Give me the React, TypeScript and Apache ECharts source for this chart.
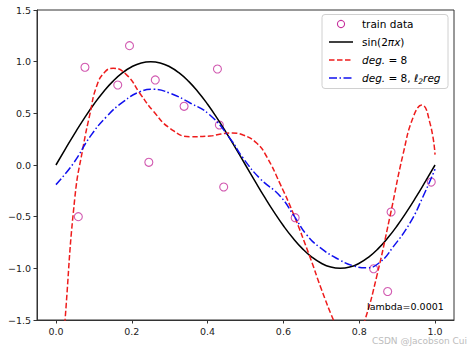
import React, { useEffect, useRef } from "react";
import * as echarts from "echarts";

const seriesNames = ["train data", "sin(2πx)", "deg. = 8", "deg. = 8, ℓ2reg"];

const trainX = [0.059, 0.0765, 0.163, 0.194, 0.245, 0.262, 0.338, 0.426, 0.431, 0.4425, 0.631, 0.838, 0.875, 0.884, 0.99];
const trainY = [-0.5, 0.946, 0.774, 1.155, 0.026, 0.823, 0.568, 0.929, 0.387, -0.213, -0.51, -1.004, -1.224, -0.455, -0.165];

const sinX = [0, 0.025, 0.05, 0.075, 0.1, 0.125, 0.15, 0.175, 0.2, 0.225, 0.25, 0.275, 0.3, 0.325, 0.35, 0.375, 0.4, 0.425, 0.45, 0.475, 0.5, 0.525, 0.55, 0.575, 0.6, 0.625, 0.65, 0.675, 0.7, 0.725, 0.75, 0.775, 0.8, 0.825, 0.85, 0.875, 0.9, 0.925, 0.95, 0.975, 1.0];
const sinY = [0, 0.156, 0.309, 0.454, 0.588, 0.707, 0.809, 0.891, 0.951, 0.988, 1.0, 0.988, 0.951, 0.891, 0.809, 0.707, 0.588, 0.454, 0.309, 0.156, 0, -0.156, -0.309, -0.454, -0.588, -0.707, -0.809, -0.891, -0.951, -0.988, -1.0, -0.988, -0.951, -0.891, -0.809, -0.707, -0.588, -0.454, -0.309, -0.156, 0];

const polyX = [0, 0.024, 0.05, 0.072, 0.09, 0.107, 0.129, 0.151, 0.187, 0.222, 0.257, 0.301, 0.354, 0.406, 0.435, 0.465, 0.494, 0.53, 0.556, 0.591, 0.626, 0.67, 0.7, 0.732, 0.76, 0.79, 0.815, 0.846, 0.881, 0.916, 0.943, 0.965, 0.987, 1.0];
const polyY = [-2.7, -1.5, -0.31, 0.18, 0.5, 0.76, 0.9, 0.936, 0.87, 0.69, 0.52, 0.355, 0.274, 0.28, 0.3, 0.31, 0.29, 0.21, 0.08, -0.18, -0.47, -0.89, -1.2, -1.5, -1.72, -1.72, -1.5, -1.08, -0.5, 0.11, 0.47, 0.58, 0.4, 0.1];

const regX = [0, 0.046, 0.09, 0.134, 0.178, 0.222, 0.257, 0.301, 0.354, 0.406, 0.459, 0.494, 0.538, 0.591, 0.631, 0.66, 0.697, 0.749, 0.784, 0.82, 0.855, 0.89, 0.934, 0.969, 1.0];
const regY = [-0.19, 0.016, 0.274, 0.47, 0.613, 0.71, 0.733, 0.694, 0.6, 0.484, 0.258, 0.065, -0.13, -0.3, -0.51, -0.67, -0.8, -0.92, -0.975, -0.995, -0.94, -0.79, -0.56, -0.3, -0.04];

const xTicks = [0, 0.2, 0.4, 0.6, 0.8, 1.0];

const pairs = (xs: number[], ys: number[]) => xs.map((x, i) => [x, ys[i]]);

const FONT = "DejaVu Sans";
const MAGENTA = "#c62f9c";
const RED = "#ee1c1c";
const BLUE = "#1010ee";
const AXIS = "#333";

export default function App() {
  const ref = useRef<HTMLDivElement>(null);
  useEffect(() => {
    if (!ref.current) return;
    const chart = echarts.init(ref.current, null, { renderer: "svg" });
    const fmt = (v: number) => v.toFixed(1).replace("-", "\u2212");
    const lx1 = 329, lx2 = 353, tx = 362;
    const rows = [24, 42, 60, 78];
    const richBase = {
      i: { fontStyle: "italic", fontFamily: FONT, fontSize: 10.5, fill: "#000" },
      sub: { fontStyle: "italic", fontFamily: FONT, fontSize: 7.5, fill: "#000", padding: [6, 0, 0, 0] },
    };
    chart.setOption({
      animation: false,
      grid: {
        left: 37,
        right: 20,
        top: 10,
        bottom: 31,
        show: true,
        borderColor: AXIS,
        borderWidth: 1,
      },
      xAxis: {
        type: "value",
        min: -0.05,
        max: 1.05,
        splitLine: { show: false },
        axisLine: { show: true, onZero: false, lineStyle: { color: AXIS, width: 1 } },
        axisTick: { show: true, length: 3.5, customValues: xTicks, lineStyle: { color: AXIS } },
        axisLabel: {
          customValues: xTicks,
          formatter: fmt,
          fontFamily: FONT,
          fontSize: 9.5,
          color: "#222",
          margin: 6,
        },
      },
      yAxis: {
        type: "value",
        min: -1.5,
        max: 1.5,
        interval: 0.5,
        splitLine: { show: false },
        axisLine: { show: true, onZero: false, lineStyle: { color: AXIS, width: 1 } },
        axisTick: { show: true, length: 3.5, lineStyle: { color: AXIS } },
        axisLabel: {
          formatter: fmt,
          fontFamily: FONT,
          fontSize: 9.5,
          color: "#222",
          margin: 6,
        },
      },
      series: [
        {
          name: seriesNames[0],
          type: "scatter",
          data: pairs(trainX, trainY),
          symbol: "circle",
          symbolSize: 8,
          itemStyle: { color: "rgba(0,0,0,0)", borderColor: MAGENTA, borderWidth: 1.1 },
          z: 2,
        },
        {
          name: seriesNames[1],
          type: "line",
          data: pairs(sinX, sinY),
          smooth: 0.5,
          showSymbol: false,
          symbol: "none",
          lineStyle: { color: "#000", width: 1.5 },
          z: 3,
        },
        {
          name: seriesNames[2],
          type: "line",
          data: pairs(polyX, polyY),
          smooth: 0.5,
          showSymbol: false,
          symbol: "none",
          lineStyle: { color: RED, width: 1.5, type: [5.5, 2.5] },
          z: 3,
        },
        {
          name: seriesNames[3],
          type: "line",
          data: pairs(regX, regY),
          smooth: 0.5,
          showSymbol: false,
          symbol: "none",
          lineStyle: { color: BLUE, width: 1.5, type: [8, 2.5, 1.5, 2.5] },
          z: 3,
        },
      ],
      graphic: [
        {
          type: "rect",
          z: 100,
          shape: { x: 322, y: 14.5, width: 126, height: 74, r: 3 },
          style: { fill: "rgba(255,255,255,0.85)", stroke: "#d0d0d0", lineWidth: 1 },
        },
        {
          type: "circle",
          z: 101,
          shape: { cx: 341, cy: rows[0], r: 3.6 },
          style: { fill: "none", stroke: MAGENTA, lineWidth: 1.1 },
        },
        {
          type: "line",
          z: 101,
          shape: { x1: lx1, y1: rows[1], x2: lx2, y2: rows[1] },
          style: { stroke: "#000", lineWidth: 1.5 },
        },
        {
          type: "line",
          z: 101,
          shape: { x1: lx1, y1: rows[2], x2: lx2, y2: rows[2] },
          style: { stroke: RED, lineWidth: 1.5, lineDash: [5.5, 2.5] },
        },
        {
          type: "line",
          z: 101,
          shape: { x1: lx1, y1: rows[3], x2: lx2, y2: rows[3] },
          style: { stroke: BLUE, lineWidth: 1.5, lineDash: [8, 2.5, 1.5, 2.5] },
        },
        {
          type: "text",
          z: 101,
          x: tx,
          y: rows[0],
          style: { text: seriesNames[0], fontFamily: FONT, fontSize: 10.5, fill: "#000", verticalAlign: "middle" },
        },
        {
          type: "text",
          z: 101,
          x: tx,
          y: rows[1],
          style: {
            text: "sin(2{i|πx})",
            rich: richBase,
            fontFamily: FONT,
            fontSize: 10.5,
            fill: "#000",
            verticalAlign: "middle",
          },
        },
        {
          type: "text",
          z: 101,
          x: tx,
          y: rows[2],
          style: {
            text: "{i|deg.} = 8",
            rich: richBase,
            fontFamily: FONT,
            fontSize: 10.5,
            fill: "#000",
            verticalAlign: "middle",
          },
        },
        {
          type: "text",
          z: 101,
          x: tx,
          y: rows[3],
          style: {
            text: "{i|deg.} = 8, {i|ℓ}{sub|2}{i|reg}",
            rich: richBase,
            fontFamily: FONT,
            fontSize: 10.5,
            fill: "#000",
            verticalAlign: "middle",
          },
        },
        {
          type: "text",
          z: 101,
          x: 367,
          y: 306,
          style: { text: "lambda=0.0001", fontFamily: FONT, fontSize: 9.5, fill: "#000", verticalAlign: "middle" },
        },
        {
          type: "text",
          z: 101,
          right: 7,
          top: 336,
          style: { text: "CSDN @Jacobson Cui", fontFamily: FONT, fontSize: 9, fill: "#bdbdbd" },
        },
      ],
    });
    return () => chart.dispose();
  }, []);
  return (
    <div
      ref={ref}
      style={{ position: "fixed", left: 0, top: 0, width: 474, height: 351, background: "#fff" }}
    />
  );
}
